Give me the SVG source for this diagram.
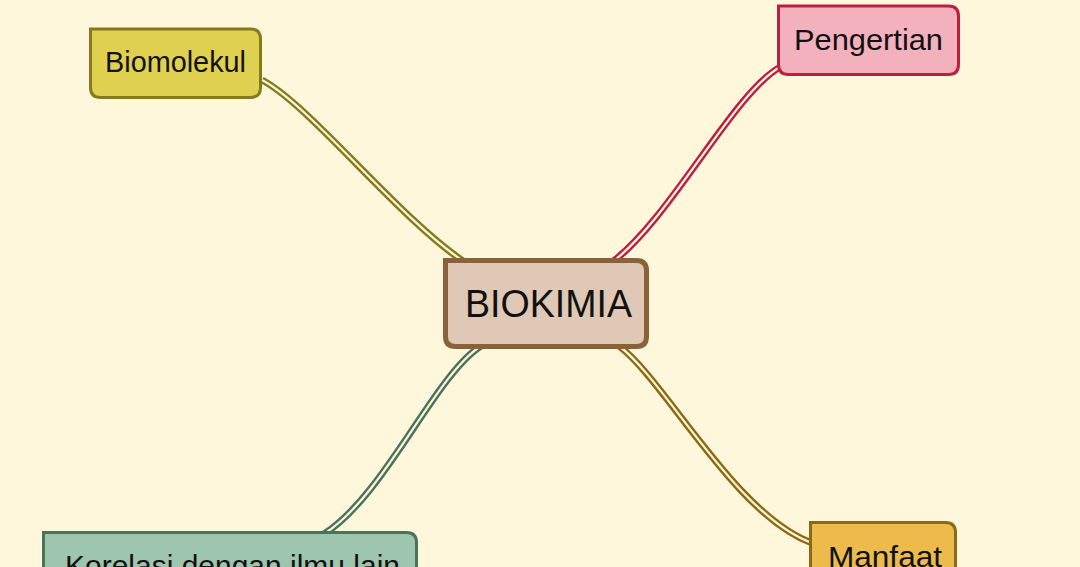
<svg xmlns="http://www.w3.org/2000/svg" width="1080" height="567" viewBox="0 0 1080 567">
  <style>
    .lbl { font-family: "Liberation Sans", Arial, sans-serif; fill: #111; }
    .conn-out { fill: none; stroke-width: 7px; }
    .conn-in { fill: none; stroke: #fff7dc; stroke-width: 2.2px; }
    .box { stroke-width: 3px; }
  </style>
  <rect x="0" y="0" width="1080" height="567" fill="#fff7dc"/>
  <g id="connectors">
    <path class="conn-out" stroke="#857a1c" d="M 262 80 C 310 105, 400 220, 466 263"/>
    <path class="conn-in" d="M 262 80 C 310 105, 400 220, 466 263"/>
    <path class="conn-out" stroke="#bd1f43" d="M 782 66 C 735 90, 670 220, 611 263"/>
    <path class="conn-in" d="M 782 66 C 735 90, 670 220, 611 263"/>
    <path class="conn-out" stroke="#4a7359" d="M 481 346 C 435 375, 385 495, 324 534"/>
    <path class="conn-in" d="M 481 346 C 435 375, 385 495, 324 534"/>
    <path class="conn-out" stroke="#8c6a14" d="M 619 346 C 665 380, 735 515, 812 543"/>
    <path class="conn-in" d="M 619 346 C 665 380, 735 515, 812 543"/>
  </g>
  <g id="node-biokimia">
    <path d="M 445.5 260.5 H 636.5 Q 646.5 260.5 646.5 270.5 V 336.5 Q 646.5 346.5 636.5 346.5 H 455.5 Q 445.5 346.5 445.5 336.5 Z" fill="#dfc8b5" stroke="#8a6239" stroke-width="5"/>
    <text class="lbl" x="465" y="317" font-size="38" textLength="167" lengthAdjust="spacingAndGlyphs">BIOKIMIA</text>
  </g>
  <g id="node-biomolekul">
    <path d="M 90.5 29 H 250.5 Q 260.5 29 260.5 39 V 87.5 Q 260.5 97.5 250.5 97.5 H 100.5 Q 90.5 97.5 90.5 87.5 Z" class="box" fill="#dfd04f" stroke="#857a1c"/>
    <text class="lbl" x="105" y="72" font-size="29" textLength="141" lengthAdjust="spacingAndGlyphs">Biomolekul</text>
  </g>
  <g id="node-pengertian">
    <path d="M 778.5 6 H 948.5 Q 958.5 6 958.5 16 V 64.5 Q 958.5 74.5 948.5 74.5 H 788.5 Q 778.5 74.5 778.5 64.5 Z" class="box" fill="#f3b0bd" stroke="#bd1f43"/>
    <text class="lbl" x="794" y="50" font-size="29" textLength="149" lengthAdjust="spacingAndGlyphs">Pengertian</text>
  </g>
  <g id="node-korelasi">
    <path d="M 43.5 532.5 H 406.5 Q 416.5 532.5 416.5 542.5 V 591 Q 416.5 601 406.5 601 H 53.5 Q 43.5 601 43.5 591 Z" class="box" fill="#9ec5ad" stroke="#4a7359"/>
    <text class="lbl" x="65" y="576" font-size="30" textLength="335" lengthAdjust="spacingAndGlyphs">Korelasi dengan ilmu lain</text>
  </g>
  <g id="node-manfaat">
    <path d="M 810.5 522.5 H 945.5 Q 955.5 522.5 955.5 532.5 V 581 Q 955.5 591 945.5 591 H 820.5 Q 810.5 591 810.5 581 Z" class="box" fill="#ecbb4c" stroke="#8c6a14"/>
    <text class="lbl" x="828" y="567" font-size="30" textLength="114" lengthAdjust="spacingAndGlyphs">Manfaat</text>
  </g>
</svg>
